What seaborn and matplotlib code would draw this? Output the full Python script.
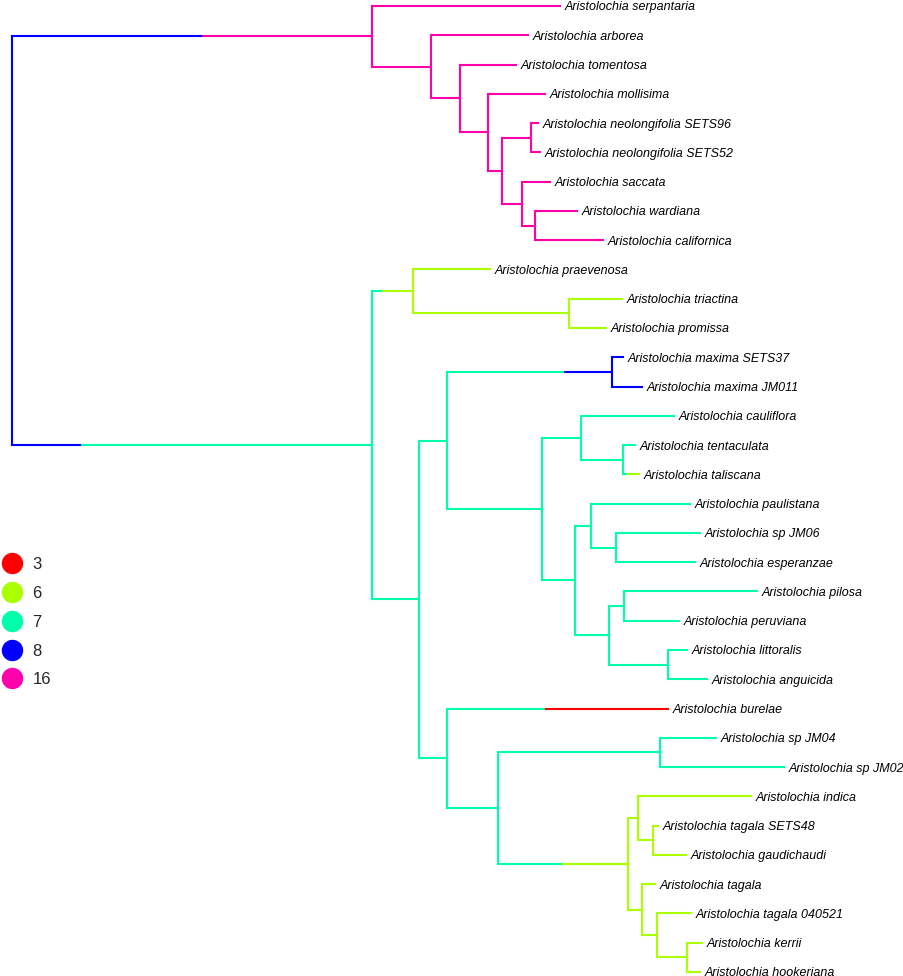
import matplotlib
matplotlib.use("Agg")
import matplotlib.pyplot as plt
from matplotlib.lines import Line2D
import seaborn as sns
import pandas as pd

# ---------------- data ----------------
state_labels = ["3", "6", "7", "8", "16"]
state_colors = ["#FF0000", "#AAFF00", "#00FFAA", "#0000FF", "#FF00AA"]

edge_parent = [
    "root", "P1", "P1", "P2", "P2", "P3", "P3", "P4", "P4", "P5", "P6", "P6",
    "P5", "P7", "P7", "P8", "P8",
    "root", "C1", "G1", "G1", "G2", "G2", "C1", "C2", "C3", "M1", "M1",
    "C3", "C4", "C5", "C5", "C6", "C6", "C4", "C7", "C8", "C8", "C9", "C9",
    "C7", "C10", "C11", "C11", "C10", "C12", "C12",
    "C2", "C13", "C13", "C14", "C15", "C15", "C14", "G3", "G4", "G4", "G5", "G5",
    "G3", "G6", "G6", "G7", "G7", "G8", "G8",
]
edge_child = [
    "P1", "Aristolochia serpantaria", "P2", "Aristolochia arborea", "P3",
    "Aristolochia tomentosa", "P4", "Aristolochia mollisima", "P5", "P6",
    "Aristolochia neolongifolia SETS96", "Aristolochia neolongifolia SETS52",
    "P7", "Aristolochia saccata", "P8", "Aristolochia wardiana",
    "Aristolochia californica",
    "C1", "G1", "Aristolochia praevenosa", "G2", "Aristolochia triactina",
    "Aristolochia promissa", "C2", "C3", "M1", "Aristolochia maxima SETS37",
    "Aristolochia maxima JM011",
    "C4", "C5", "Aristolochia cauliflora", "C6", "Aristolochia tentaculata",
    "Aristolochia taliscana", "C7", "C8", "Aristolochia paulistana", "C9",
    "Aristolochia sp JM06", "Aristolochia esperanzae",
    "C10", "C11", "Aristolochia pilosa", "Aristolochia peruviana", "C12",
    "Aristolochia littoralis", "Aristolochia anguicida",
    "C13", "Aristolochia burelae", "C14", "C15", "Aristolochia sp JM04",
    "Aristolochia sp JM02", "G3", "G4", "Aristolochia indica", "G5",
    "Aristolochia tagala SETS48", "Aristolochia gaudichaudi",
    "G6", "Aristolochia tagala", "G7", "Aristolochia tagala 040521", "G8",
    "Aristolochia kerrii", "Aristolochia hookeriana",
]
# mapped character states along each edge (root -> tip order)
edge_seg_states = [
    ["8", "16"], ["16"], ["16"], ["16"], ["16"], ["16"], ["16"], ["16"], ["16"],
    ["16"], ["16"], ["16"], ["16"], ["16"], ["16"], ["16"], ["16"],
    ["8", "7"], ["7", "6"], ["6"], ["6"], ["6"], ["6"], ["7"], ["7"], ["7", "8"],
    ["8"], ["8"],
    ["7"], ["7"], ["7"], ["7"], ["7"], ["7", "6"], ["7"], ["7"], ["7"], ["7"],
    ["7"], ["7"],
    ["7"], ["7"], ["7"], ["7"], ["7"], ["7"], ["7"],
    ["7"], ["7", "3"], ["7"], ["7"], ["7"], ["7"], ["7", "6"], ["6"], ["6"],
    ["6"], ["6"], ["6"],
    ["6"], ["6"], ["6"], ["6"], ["6"], ["6"], ["6"],
]
edge_seg_lengths = [
    [191, 169], [188], [59], [97], [29], [56], [28], [57], [14], [29], [7], [9],
    [20], [28], [13], [42], [68],
    [70, 290], [11, 30], [77], [156], [53], [37], [47], [28], [116, 49],
    [11], [30],
    [95], [39], [93], [42], [12], [5, 11], [33], [16], [99], [25], [84], [79],
    [34], [15], [133], [55], [59], [19], [39],
    [28], [99, 122], [51], [162], [56], [124], [65, 65], [10], [113], [15],
    [5], [33],
    [14], [13], [15], [34], [30], [15], [13],
]

# ---------------- layout from tree ----------------
children = {}
incoming = {}
for p, c, st, ln in zip(edge_parent, edge_child, edge_seg_states, edge_seg_lengths):
    children.setdefault(p, []).append(c)
    incoming[c] = (p, st, ln)

xpos, ypos = {"root": 0.0}, {}
tip_order = []

def place(node):
    if node not in children:
        tip_order.append(node)
        ypos[node] = float(len(tip_order))
        return
    for ch in children[node]:
        p, st, ln = incoming[ch]
        xpos[ch] = xpos[node] + sum(ln)
        place(ch)
    kids = children[node]
    ypos[node] = (ypos[kids[0]] + ypos[kids[-1]]) / 2.0

place("root")

rows = []
seg = 0
for c, (p, st, ln) in incoming.items():
    x0 = xpos[p]
    for s, l in zip(st, ln):
        rows.append(dict(seg=seg, x=x0, y=ypos[c], state=s))
        rows.append(dict(seg=seg, x=x0 + l, y=ypos[c], state=s))
        x0 += l
        seg += 1
for node, kids in children.items():
    if node == "root":
        nstate = incoming[kids[0]][1][0]
    else:
        nstate = incoming[node][1][-1]
    rows.append(dict(seg=seg, x=xpos[node], y=ypos[kids[0]], state=nstate))
    rows.append(dict(seg=seg, x=xpos[node], y=ypos[kids[-1]], state=nstate))
    seg += 1
df = pd.DataFrame(rows)

# ---------------- plot ----------------
sns.set_theme(style="white")
plt.rcParams["font.family"] = ["Liberation Sans", "DejaVu Sans"]

fig = plt.figure(figsize=(9.04, 9.76), dpi=100)
ax = fig.add_axes([0, 0, 1, 1])
palette = dict(zip(state_labels, state_colors))
sns.lineplot(data=df, x="x", y="y", units="seg", hue="state", palette=palette,
             estimator=None, sort=False, legend=False, linewidth=1.5, ax=ax)
for ln_ in ax.get_lines():
    ln_.set_solid_capstyle("projecting")

for tip in tip_order:
    ax.annotate(tip, xy=(xpos[tip], ypos[tip]), xytext=(3, -3.2),
                textcoords="offset points", ha="left", va="baseline",
                fontsize=9, fontstyle="italic", color="black")

ntip = len(tip_order)
pitch = 966.0 / (ntip - 1)
ax.set_ylim(ntip + 4.0 / pitch, 1 - 6.0 / pitch)
ax.set_xlim(-12, 892)
ax.axis("off")

handles = [Line2D([0], [0], marker="o", linestyle="none", markersize=14.4,
                  markerfacecolor=c, markeredgecolor=c)
           for c in state_colors]
ax.legend(handles, state_labels, loc="upper left",
          bbox_to_anchor=(3.7 / 904, 1 - 557 / 976), bbox_transform=fig.transFigure,
          frameon=False, fontsize=12, handlelength=1.0, handletextpad=0.72,
          labelspacing=0.83, borderpad=0, borderaxespad=0)

fig.savefig("out.png", dpi=100)
